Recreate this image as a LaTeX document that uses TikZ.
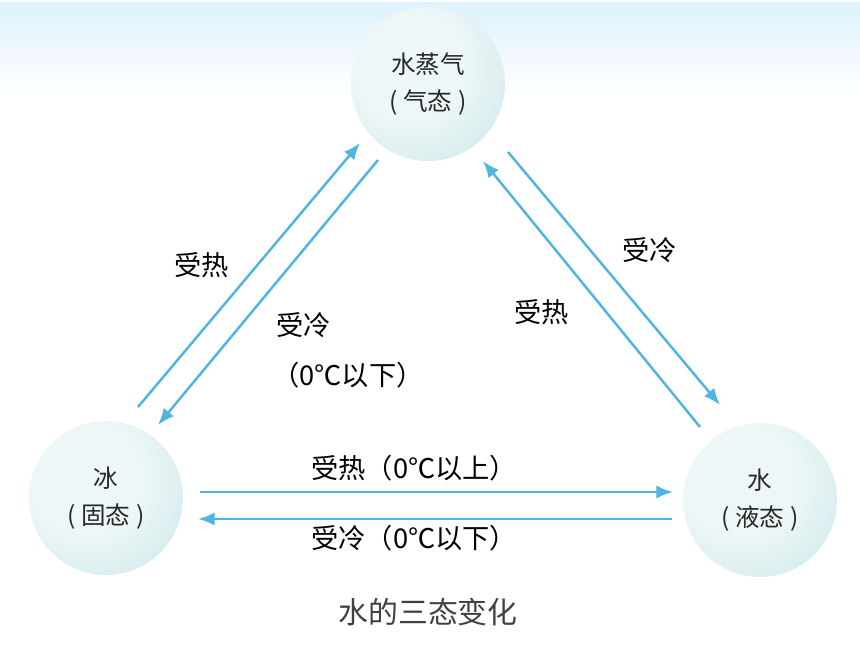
\documentclass[tikz,border=0pt]{standalone}
\usepackage{fontspec}
\setmainfont{Noto Sans CJK SC}
\usetikzlibrary{arrows.meta}

\definecolor{arrowblue}{RGB}{80,180,226}
\definecolor{bandblue}{RGB}{222,241,252}
\definecolor{dropin}{RGB}{238,247,247}
\definecolor{dropout}{RGB}{176,219,223}
\definecolor{textgray}{RGB}{40,40,40}
\pgfdeclareradialshading{drop}{\pgfpoint{-8bp}{8bp}}{color(0bp)=(dropin); color(18bp)=(dropin); color(60bp)=(dropout); color(100bp)=(dropout)}

\tikzset{
  phase/.style={circle, minimum size=3.08cm, inner sep=0pt, shading=drop, align=center,
    text=textgray, font=\fontsize{14pt}{21.5pt}\selectfont},
  flow/.style={arrowblue, line width=1.4pt, -{Latex[length=9.5pt,width=7.5pt]}},
  lbl/.style={anchor=west, inner sep=0pt, font=\fontsize{15.5pt}{18pt}\selectfont}
}

\begin{document}
\begin{tikzpicture}[x=0.02cm, y=-0.02cm]
  \useasboundingbox (0,0) rectangle (860,645);
  \shade[top color=bandblue, bottom color=white] (0,3) rectangle (860,95);
  %
  \node[phase] (vapor) at (428,84) {水蒸气\\( 气态 )};
  \node[phase] (ice) at (106,498) {冰\\( 固态 )};
  \node[phase] (water) at (760,500) {水\\( 液态 )};
  %
  \draw[flow] ([shift={(32,-91)}]ice.center) -- ([shift={(-68,59)}]vapor.center);
  \draw[flow] ([shift={(-50,76)}]vapor.center) -- ([shift={(52,-73)}]ice.center);
  \draw[flow] ([shift={(-60,-73)}]water.center) -- ([shift={(55,77)}]vapor.center);
  \draw[flow] ([shift={(80,68)}]vapor.center) -- ([shift={(-40,-95)}]water.center);
  \draw[flow] ([shift={(94,-6)}]ice.center) -- ([shift={(-87,-8)}]water.center);
  \draw[flow] ([shift={(-88,19)}]water.center) -- ([shift={(92,21)}]ice.center);
  %
  \node[lbl] (iceup) at (174,265) {受热};
  \node[lbl] (icedown) at (276,325) {受冷};
  \node[lbl] (icedownt) at (272,375) {（0℃以下）};
  \node[lbl] (waterdown) at (622,250) {受冷};
  \node[lbl] (waterup) at (514,312) {受热};
  \node[lbl] (melt) at (311,468) {受热（0℃以上）};
  \node[lbl] (freeze) at (311,538) {受冷（0℃以下）};
  %
  \node[text=black!75, font=\fontsize{17pt}{20pt}\selectfont] (title) at (428,612) {水的三态变化};
\end{tikzpicture}
\end{document}
